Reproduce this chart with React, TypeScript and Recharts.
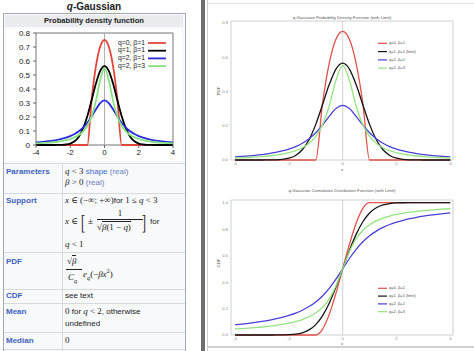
import React from "react";
import { LineChart, Line, XAxis, YAxis, ReferenceLine, ReferenceArea } from "recharts";

const xs = [-4, -3.75, -3.5, -3.25, -3, -2.75, -2.5, -2.25, -2, -1.75, -1.5, -1.25, -1, -0.75, -0.5, -0.25, 0, 0.25, 0.5, 0.75, 1, 1.25, 1.5, 1.75, 2, 2.25, 2.5, 2.75, 3, 3.25, 3.5, 3.75, 4];

// densities
const pdfQ0 = [0, 0, 0, 0, 0, 0, 0, 0, 0, 0, 0, 0, 0, 0.328, 0.563, 0.703, 0.75, 0.703, 0.563, 0.328, 0, 0, 0, 0, 0, 0, 0, 0, 0, 0, 0, 0, 0];
const pdfQ1 = [0, 0, 0, 0, 0.0001, 0.0003, 0.0011, 0.0036, 0.0103, 0.0264, 0.0595, 0.1183, 0.2076, 0.3215, 0.4394, 0.53, 0.564, 0.53, 0.4394, 0.3215, 0.2076, 0.1183, 0.0595, 0.0264, 0.0103, 0.0036, 0.0011, 0.0003, 0.0001, 0, 0, 0, 0];
const pdfQ2 = [0.0187, 0.0211, 0.024, 0.0275, 0.0318, 0.0372, 0.0439, 0.0525, 0.0637, 0.0784, 0.0979, 0.1242, 0.1592, 0.2037, 0.2546, 0.2996, 0.3183, 0.2996, 0.2546, 0.2037, 0.1592, 0.1242, 0.0979, 0.0784, 0.0637, 0.0525, 0.0439, 0.0372, 0.0318, 0.0275, 0.024, 0.0211, 0.0187];
const pdfQ2b3 = [0.0113, 0.0128, 0.0146, 0.0169, 0.0197, 0.0233, 0.0279, 0.0341, 0.0424, 0.0541, 0.0711, 0.0969, 0.1378, 0.2051, 0.315, 0.4643, 0.5513, 0.4643, 0.315, 0.2051, 0.1378, 0.0969, 0.0711, 0.0541, 0.0424, 0.0341, 0.0279, 0.0233, 0.0197, 0.0169, 0.0146, 0.0128, 0.0113];

// cumulative
const cdfQ0 = [0, 0, 0, 0, 0, 0, 0, 0, 0, 0, 0, 0, 0, 0.043, 0.156, 0.316, 0.5, 0.684, 0.844, 0.957, 1, 1, 1, 1, 1, 1, 1, 1, 1, 1, 1, 1, 1];
const cdfQ1 = [0, 0, 0, 0, 0, 0.0001, 0.0002, 0.0007, 0.0023, 0.0067, 0.0169, 0.0385, 0.0786, 0.1444, 0.2398, 0.3618, 0.5, 0.6382, 0.7602, 0.8556, 0.9214, 0.9615, 0.9831, 0.9933, 0.9977, 0.9993, 0.9998, 0.9999, 1, 1, 1, 1, 1];
const cdfQ2 = [0.078, 0.0829, 0.0886, 0.095, 0.1024, 0.111, 0.1211, 0.1331, 0.1476, 0.1652, 0.1872, 0.2148, 0.25, 0.2952, 0.3524, 0.422, 0.5, 0.578, 0.6476, 0.7048, 0.75, 0.7852, 0.8128, 0.8348, 0.8524, 0.8669, 0.8789, 0.889, 0.8976, 0.905, 0.9114, 0.9171, 0.922];
const cdfQ2b3 = [0.0456, 0.0486, 0.052, 0.056, 0.0605, 0.0659, 0.0722, 0.0799, 0.0894, 0.1014, 0.1169, 0.1378, 0.1667, 0.2087, 0.2728, 0.3699, 0.5, 0.6301, 0.7272, 0.7913, 0.8333, 0.8622, 0.8831, 0.8986, 0.9106, 0.9201, 0.9278, 0.9341, 0.9395, 0.944, 0.948, 0.9514, 0.9544];

const seriesKeys = ["q0", "q1", "q2", "q2b3"];
const seriesNames = ["q=0, β=1", "q=1, β=1", "q=2, β=1", "q=2, β=3"];
const seriesNamesLimit = ["q=0, β=1", "q=1, β=1 (limit)", "q=2, β=1", "q=2, β=3"];
const colorsLeft = ["#e2463b", "#000000", "#2a2ae0", "#86e27e"];
const colorsRight = ["#e0524a", "#151515", "#4a3fd6", "#92e47e"];

const xTicks = [-4, -2, 0, 2, 4];
const smallPdfTicks = [0, 0.1, 0.2, 0.3, 0.4, 0.5, 0.6, 0.7, 0.8];
const pdfTicks = [0, 0.2, 0.4, 0.6, 0.8];
const cdfTicks = [0, 0.2, 0.4, 0.6, 0.8, 1];

const pdfRows = xs.map((x, i) => ({ x, q0: pdfQ0[i], q1: pdfQ1[i], q2: pdfQ2[i], q2b3: pdfQ2b3[i] }));
const cdfRows = xs.map((x, i) => ({ x, q0: cdfQ0[i], q1: cdfQ1[i], q2: cdfQ2[i], q2b3: cdfQ2b3[i] }));

const SANS = "'Liberation Sans', Arial, sans-serif";
const SERIF = "'Liberation Serif', 'DejaVu Serif', serif";
const LABEL = "#3c62c0";
const LINK = "#3d66cc";

function At({ x, y, size = 8, children, style }: any) {
  return (
    <div
      style={{
        position: "absolute",
        left: x,
        top: y - size * 0.7,
        fontSize: size,
        lineHeight: `${size * 1.4}px`,
        whiteSpace: "nowrap",
        color: "#202122",
        ...style,
      }}
    >
      {children}
    </div>
  );
}

const M = ({ children }: any) => <span style={{ fontFamily: SERIF, fontSize: "1.12em" }}>{children}</span>;

function SmallPdf() {
  const tick = { fontSize: 8, fill: "#222", fontFamily: SANS };
  return (
    <LineChart width={185} height={135} data={pdfRows} margin={{ top: 5, right: 12, bottom: 0, left: 6 }}>
      <XAxis dataKey="x" type="number" domain={[-4, 4]} ticks={xTicks} interval={0} height={18} tickSize={3} tickMargin={1} axisLine={false} stroke="#666" tick={tick} />
      <YAxis type="number" domain={[0, 0.8]} ticks={smallPdfTicks} interval={0} width={30} tickSize={3} tickMargin={3} axisLine={false} stroke="#666" tick={tick} />
      <ReferenceArea x1={-4} x2={4} y1={0} y2={0.8} fill="none" fillOpacity={0} stroke="#777" strokeWidth={1} />
      <ReferenceLine x={0} stroke="#b0b0b0" />
      {seriesKeys.map((k, i) => (
        <Line key={k} dataKey={k} type="monotone" stroke={colorsLeft[i]} strokeWidth={1.8} dot={false} isAnimationActive={false} />
      ))}
    </LineChart>
  );
}

function BigChart({ rows, ticks, domainY, top, height }: any) {
  const tick = { fontSize: 4.2, fill: "#888", fontFamily: SANS };
  return (
    <LineChart width={250} height={height} data={rows} margin={{ top, right: 5, bottom: 0, left: 5 }}>
      <XAxis dataKey="x" type="number" domain={[-4.15, 4.1]} ticks={xTicks} interval={0} height={15} tickSize={2} tickMargin={0} axisLine={false} tickLine={false} tick={tick} />
      <YAxis type="number" domain={domainY} ticks={ticks} interval={0} width={18} tickSize={2} tickMargin={1} axisLine={false} tickLine={false} tick={tick} tickFormatter={(v: number) => v.toFixed(1)} />
      <ReferenceArea x1={-4.15} x2={4.1} y1={domainY[0]} y2={domainY[1]} fill="none" fillOpacity={0} stroke="#c4c4c4" strokeWidth={0.8} />
      <ReferenceLine x={0} stroke="#c8c8c8" strokeWidth={0.8} />
      {seriesKeys.map((k, i) => (
        <Line key={k} dataKey={k} type="monotone" stroke={colorsRight[i]} strokeWidth={1.3} dot={false} isAnimationActive={false} />
      ))}
    </LineChart>
  );
}

export default function App() {
  const rowLines = [163, 193, 252, 289, 303, 332, 349];
  return (
    <div style={{ position: "absolute", left: 0, top: 0, width: 474, height: 351, overflow: "hidden", background: "#fff", fontFamily: SANS }}>
      {/* infobox */}
      <At x={0} y={7} size={10} style={{ width: 188, textAlign: "center", fontWeight: 700 }}>
        <i>q</i>-Gaussian
      </At>
      <div style={{ position: "absolute", left: 3, top: 13, width: 181, height: 345, border: "1px solid #a2a9b1", background: "#f8f9fa" }} />
      <div style={{ position: "absolute", left: 5, top: 15, width: 178, height: 12, background: "#eaecf0", fontSize: 7.6, lineHeight: "12px", fontWeight: 700, textAlign: "center", color: "#202122" }}>
        Probability density function
      </div>
      <div style={{ position: "absolute", left: 6, top: 29, width: 176, height: 132, background: "#fff" }} />
      <div style={{ position: "absolute", left: 0, top: 28 }}>
        <SmallPdf />
      </div>
      <svg style={{ position: "absolute", left: 0, top: 0 }} width={200} height={80}>
        {seriesNames.map((n, i) => (
          <g key={n}>
            <text x={145} y={43 + i * 7.7} fontSize={6.8} textAnchor="end" dominantBaseline="middle" fill="#222" fontFamily={SANS}>{n}</text>
            <line x1={148} x2={166} y1={43 + i * 7.7} y2={43 + i * 7.7} stroke={colorsLeft[i]} strokeWidth={1.8} />
          </g>
        ))}
      </svg>

      {rowLines.map((y) => (
        <div key={y} style={{ position: "absolute", left: 4, top: y, width: 181, height: 1, background: "#d6d9dd" }} />
      ))}
      <div style={{ position: "absolute", left: 62, top: 163, width: 1, height: 190, background: "#d6d9dd" }} />

      {[["Parameters", 172], ["Support", 201], ["PDF", 262], ["CDF", 296], ["Mean", 312], ["Median", 341]].map(([t, y]) => (
        <At key={t as string} x={6} y={y as number} size={8} style={{ fontWeight: 700, color: LABEL }}>{t}</At>
      ))}

      <At x={65} y={172} size={8}>
        <M><i>q</i> &lt; 3</M> <span style={{ color: LINK }}>shape</span> <span style={{ color: "#6a80c4" }}>(real)</span>
      </At>
      <At x={65} y={183} size={8}>
        <M><i>β</i> &gt; 0</M> <span style={{ color: "#6a80c4" }}>(real)</span>
      </At>

      <At x={65} y={201} size={8}>
        <M><i>x</i> ∈ (−∞; +∞)</M>for <M>1 ≤ <i>q</i> &lt; 3</M>
      </At>
      <At x={65} y={222} size={8}><M><i>x</i> ∈</M></At>
      <At x={81} y={222} size={22} style={{ fontFamily: SERIF, fontWeight: 300, transform: "scaleX(0.55)", transformOrigin: "left center" }}>[</At>
      <At x={88} y={222} size={8}><M>±</M></At>
      <At x={97} y={214} size={8} style={{ width: 46, textAlign: "center" }}><M>1</M></At>
      <div style={{ position: "absolute", left: 97, top: 219, width: 46, height: 1, background: "#202122" }} />
      <At x={97} y={228} size={8}>
        <M>√<span style={{ borderTop: "1px solid #202122" }}><i>β</i>(1 − <i>q</i>)</span></M>
      </At>
      <At x={142} y={222} size={22} style={{ fontFamily: SERIF, fontWeight: 300, transform: "scaleX(0.55)", transformOrigin: "left center" }}>]</At>
      <At x={150} y={222} size={8}>for</At>
      <At x={65} y={245} size={8}><M><i>q</i> &lt; 1</M></At>

      <At x={67} y={262} size={8}><M>√<span style={{ borderTop: "1px solid #202122" }}><i>β</i></span></M></At>
      <div style={{ position: "absolute", left: 66, top: 269, width: 16, height: 1, background: "#202122" }} />
      <At x={68} y={278} size={8}><M><i>C</i><sub style={{ fontSize: "0.7em" }}><i>q</i></sub></M></At>
      <At x={83} y={271} size={8}><M><i>e</i><sub style={{ fontSize: "0.7em" }}><i>q</i></sub>(−<i>βx</i><sup style={{ fontSize: "0.7em" }}>2</sup>)</M></At>

      <At x={65} y={296} size={8}>see text</At>
      <At x={65} y={312} size={8}><M>0</M> for <M><i>q</i> &lt; 2</M>, otherwise</At>
      <At x={65} y={324} size={8}>undefined</At>
      <At x={65} y={341} size={8}><M>0</M></At>

      {/* right panel */}
      <div style={{ position: "absolute", left: 201, top: 0, width: 4, height: 351, background: "#6e6e6e" }} />
      <div style={{ position: "absolute", left: 207, top: 0, width: 1, height: 351, background: "#cfcfcf" }} />
      <div style={{ position: "absolute", left: 208, top: 3, width: 266, height: 1, background: "#e2e2e2" }} />
      <div style={{ position: "absolute", left: 208, top: 346, width: 266, height: 2, background: "#d0d0d0" }} />

      <div style={{ position: "absolute", left: 208, top: 10 }}>
        <BigChart rows={pdfRows} ticks={pdfTicks} domainY={[0, 0.81]} top={11} height={165} />
      </div>
      <div style={{ position: "absolute", left: 208, top: 186 }}>
        <BigChart rows={cdfRows} ticks={cdfTicks} domainY={[0, 1.02]} top={14} height={164} />
      </div>

      <svg style={{ position: "absolute", left: 0, top: 0 }} width={474} height={351}>
        <g fontFamily={SANS} fill="#555" fontSize={4.3} textAnchor="middle">
          <text x={342} y={18.5}>q-Gaussian Probability Density Function (with Limit)</text>
          <text x={342} y={191.5}>q-Gaussian Cumulative Distribution Function (with Limit)</text>
          <text x={342} y={171}>x</text>
          <text x={342} y={345}>x</text>
          <text transform="translate(219.5 91) rotate(-90)">PDF</text>
          <text transform="translate(219.5 263) rotate(-90)">CDF</text>
        </g>
        {seriesNamesLimit.map((n, i) => (
          <g key={"t" + n}>
            <line x1={378} x2={387} y1={43.3 + i * 8.3} y2={43.3 + i * 8.3} stroke={colorsRight[i]} strokeWidth={1.2} />
            <text x={389} y={43.3 + i * 8.3} fontSize={4} dominantBaseline="middle" fill="#555" fontFamily={SANS}>{n}</text>
          </g>
        ))}
        {seriesNamesLimit.map((n, i) => (
          <g key={"b" + n}>
            <line x1={378} x2={387} y1={288.3 + i * 7.8} y2={288.3 + i * 7.8} stroke={colorsRight[i]} strokeWidth={1.2} />
            <text x={389} y={288.3 + i * 7.8} fontSize={4} dominantBaseline="middle" fill="#555" fontFamily={SANS}>{n}</text>
          </g>
        ))}
      </svg>
    </div>
  );
}
